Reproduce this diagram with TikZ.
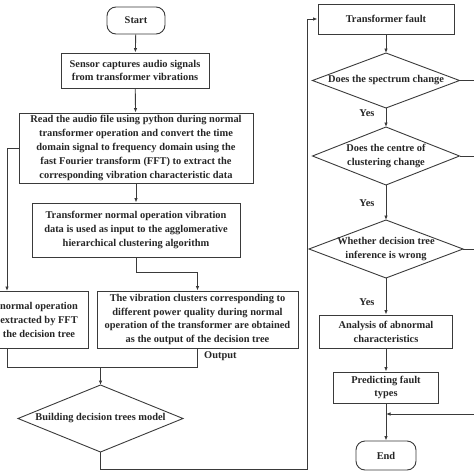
\documentclass[tikz,border=0pt]{standalone}
\usepackage{fontspec}
\setmainfont{Liberation Serif}
\usetikzlibrary{arrows.meta}
\definecolor{ln}{HTML}{3A3A3A}
\definecolor{tx}{HTML}{262626}
\tikzset{
  txt/.style={text=tx, font=\bfseries\fontsize{10.4}{13.8}\selectfont, align=center, inner sep=0pt},
  box/.style={txt, draw=ln, line width=0.9pt, rectangle},
  term/.style={box, rounded corners=9pt},
  lbl/.style={txt},
  conn/.style={draw=ln, line width=0.9pt},
  decline/.style={conn, line join=miter},
  arr/.style={conn, -{Latex[length=4.5pt,width=3.5pt]}},
}
\begin{document}
\begin{tikzpicture}[x=1pt,y=-1pt]
\useasboundingbox (0,0) rectangle (474,474);
\clip (0,0) rectangle (474,474);
% left column
\node[term, minimum width=58pt, minimum height=27pt] (start) at (136,20.5) {Start};
\node[box, minimum width=148pt, minimum height=35pt] (sensor) at (135,70.5) {Sensor captures audio signals\\from transformer vibrations};
\node[box, minimum width=234pt, minimum height=70pt] (read) at (136,148) {Read the audio file using python during normal\\transformer operation and convert the time\\domain signal to frequency domain using the\\fast Fourier transform (FFT) to extract the\\corresponding vibration characteristic data};
\node[box, minimum width=208pt, minimum height=54pt] (normal) at (136,230) {Transformer normal operation vibration\\data is used as input to the agglomerative\\hierarchical clustering algorithm};
\node[box, minimum width=110pt, minimum height=57pt] (leftbox) at (33,319.5) {};
\node[lbl] (lefttext) at (39,320) {normal operation\\extracted by FFT\\the decision tree};
\node[box, minimum width=201pt, minimum height=57pt] (right) at (197.5,319.5) {The vibration clusters corresponding to\\different power quality during normal\\operation of the transformer are obtained\\as the output of the decision tree};
\node[lbl, anchor=west] (output) at (204,356) {Output};
% building diamond
\node[lbl] (build) at (100.5,418.5) {Building decision trees model};
\coordinate (buildT) at (100.5,385);
\coordinate (buildB) at (100.5,452);
\coordinate (buildL) at (18,418.5);
\coordinate (buildR) at (183,418.5);
\draw[decline] (buildT) -- (buildR) -- (buildB) -- (buildL) -- cycle;
% right column
\node[box, minimum width=136pt, minimum height=30pt] (fault) at (386,19) {Transformer fault};
\node[lbl] (d1) at (386,80.5) {Does the spectrum change};
\coordinate (d1T) at (386,53);
\coordinate (d1B) at (386,108);
\coordinate (d1L) at (312.5,80.5);
\coordinate (d1R) at (459.5,80.5);
\draw[decline] (d1T) -- (d1R) -- (d1B) -- (d1L) -- cycle;
\node[lbl] (d2) at (386,156) {Does the centre of\\clustering change};
\coordinate (d2T) at (386,127);
\coordinate (d2B) at (386,185);
\coordinate (d2L) at (312.5,156);
\coordinate (d2R) at (459.5,156);
\draw[decline] (d2T) -- (d2R) -- (d2B) -- (d2L) -- cycle;
\node[lbl] (d3) at (386,249) {Whether decision tree\\inference is wrong};
\coordinate (d3T) at (386,220);
\coordinate (d3B) at (386,278);
\coordinate (d3L) at (309,249);
\coordinate (d3R) at (463,249);
\draw[decline] (d3T) -- (d3R) -- (d3B) -- (d3L) -- cycle;
\node[box, minimum width=133pt, minimum height=33pt] (analysis) at (386,331.5) {Analysis of abnormal\\characteristics};
\node[box, minimum width=105pt, minimum height=31pt] (predict) at (386,387.5) {Predicting fault\\types};
\node[term, minimum width=60pt, minimum height=29pt] (end) at (386,455.5) {End};
\node[lbl] (yes1) at (367,113) {Yes};
\node[lbl] (yes2) at (367,203) {Yes};
\node[lbl] (yes3) at (367,302) {Yes};
% coordinates
\coordinate (lsplit) at (7,148);
\coordinate (ltop) at (7,291);
\coordinate (lbot) at (7,348);
\coordinate (ljoin) at (7,367);
\coordinate (rjoin) at (197.5,367);
\coordinate (mjoin) at (100.5,367);
\coordinate (bdown) at (100.5,469);
\coordinate (bcorner) at (307,469);
\coordinate (bup) at (307,19);
\coordinate (n1) at (480,80.5);
\coordinate (n2) at (480,156);
\coordinate (n3) at (480,249);
\coordinate (nret) at (480,414);
\coordinate (njoin) at (386,414);
% connectors
\draw[arr] (start) -- (sensor);
\draw[arr] (sensor) -- (read);
\draw[arr] (read) -- (normal);
\draw[arr] (read.west |- lsplit) -- (lsplit) -- (ltop);
\draw[arr] (normal.south) -- ++(0,15) -| (right.north);
\draw[conn] (lbot) -- (ljoin) -- (rjoin) -- (right.south);
\draw[arr] (mjoin) -- (buildT);
\draw[arr] (buildB) -- (bdown) -- (bcorner) -- (bup) -- (fault.west);
\draw[arr] (fault) -- (d1T);
\draw[arr] (d1B) -- (d2T);
\draw[arr] (d2B) -- (d3T);
\draw[arr] (d3B) -- (analysis);
\draw[arr] (analysis) -- (predict);
\draw[arr] (predict) -- (end);
\draw[conn] (d1R) -- (n1);
\draw[conn] (d2R) -- (n2);
\draw[conn] (d3R) -- (n3);
\draw[arr] (nret) -- (njoin);
\end{tikzpicture}
\end{document}
